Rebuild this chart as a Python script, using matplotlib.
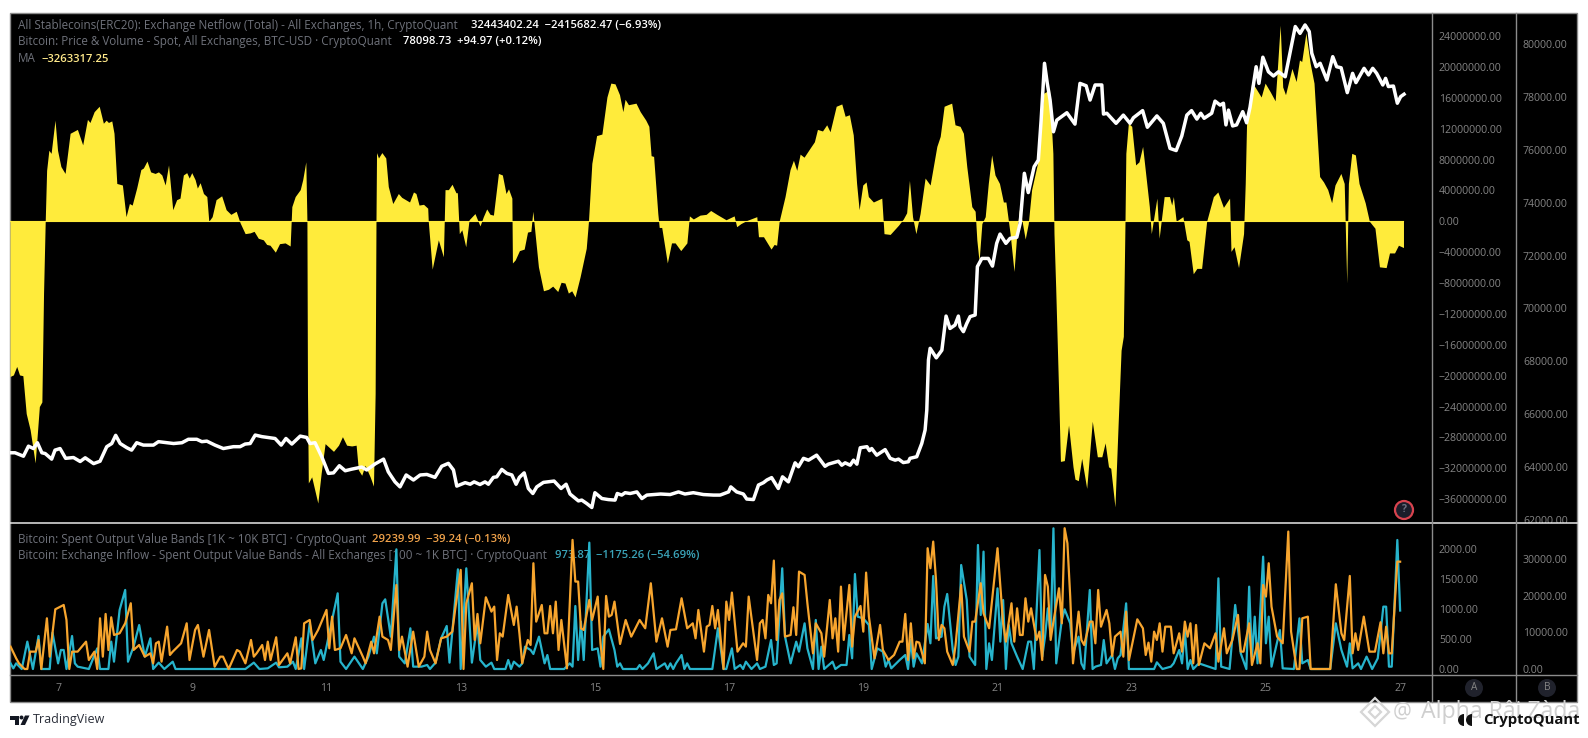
import matplotlib
matplotlib.use("Agg")
import matplotlib.pyplot as plt
from matplotlib.lines import Line2D
from matplotlib.patches import Circle, Polygon, Rectangle, Wedge
from matplotlib.transforms import IdentityTransform

# hours counted from the "7" tick, netflow in millions
netflow_hours = [
    -17.2, -16.0, -14.8, -13.8, -12.6, -11.4, -10.0, -8.2, -6.7, -5.8, -5.2, -4.6, -4.1, -3.3, -2.5, -1.1, -0.2,
    1.0, 2.5, 4.3, 6.9, 8.8, 10.5, 11.4, 12.9, 14.7, 16.2, 17.2, 18.0, 19.2, 20.0, 21.0, 23.0, 24.3, 25.5, 26.5,
    28.1, 29.6, 30.5, 31.8, 33.1, 34.7, 35.9, 37.1, 38.3, 39.5, 41.0, 42.4, 43.6, 44.8, 46.0, 46.9, 47.8, 49.0,
    49.8, 50.8, 52.0, 53.2, 53.9, 55.1, 56.5, 58.5, 60.1, 61.8, 63.7, 65.1, 66.9, 68.7, 70.1, 71.6, 73.4, 74.6,
    75.8, 77.7, 79.2, 81.2, 83.0, 83.6, 84.8, 86.6, 87.5, 88.6, 89.0, 89.2, 89.5, 90.7, 92.9, 94.1, 95.5, 96.7,
    98.5, 100.3, 101.7, 103.2, 105.0, 106.6, 107.4, 108.6, 109.8, 111.6, 112.8, 113.4, 113.7, 113.9, 114.6,
    115.8, 117.2, 118.1, 119.7, 121.7, 122.9, 125.7, 127.1, 128.0, 129.1, 130.7, 132.2, 132.4, 133.8, 136.0,
    137.8, 138.4, 139.6, 140.9, 142.3, 142.8, 143.5, 144.4, 145.8, 147.0, 149.1, 150.9,
    152.1, 153.3, 154.5, 155.7, 157.5, 158.9, 160.2, 161.1, 162.3, 162.5, 163.5, 165.0, 166.7, 167.9, 169.1,
    169.8, 170.6, 171.8, 173.6, 175.4, 176.9, 178.7, 179.9, 181.3, 182.5, 183.7, 184.9, 186.7, 188.9, 189.7,
    190.9, 192.6, 194.5, 196.3, 197.7, 199.2, 200.8, 202.0, 202.8, 204.0, 206.7, 208.2, 210.2, 211.3, 212.1,
    213.0, 214.5, 215.0, 215.9, 217.9, 219.4, 220.7, 222.7, 224.9, 225.8, 227.2, 229.6, 231.8, 233.4, 235.6,
    238.9, 241.8, 242.7, 244.2, 246.3, 249.9, 250.5, 252.3, 255.0, 256.1, 257.0, 257.9, 260.0, 261.8, 263.0,
    264.2, 265.4, 266.8, 269.0, 270.5, 271.6, 273.4, 274.9, 276.1, 278.3, 280.3, 281.5, 283.0, 284.4, 285.6,
    286.5, 287.8, 289.0, 289.8, 291.6, 293.4, 294.6, 295.4, 297.6, 300.6, 302.3, 303.5, 304.5, 305.6, 306.8,
    308.3, 310.1, 311.9, 314.3, 315.5, 316.9, 318.2, 319.6, 320.8, 322.6,
    323.8, 325.0, 326.8, 328.0, 328.6, 329.4, 330.4, 331.6, 332.7, 333.9, 335.1, 336.7, 338.1, 339.0, 340.5,
    341.9, 342.9, 343.8, 344.7, 345.9, 347.0, 348.2, 350.3, 352.5, 354.6, 355.8, 356.2, 356.8, 357.8, 358.5,
    359.9, 361.4, 363.0, 363.7, 364.9, 366.1, 367.9, 369.9, 371.7, 373.3, 374.5, 375.7, 376.5, 378.0, 379.2,
    380.2, 381.0, 381.6, 381.9, 382.8, 384.0, 385.4, 386.6, 387.9, 389.1, 390.3, 391.0, 393.0, 393.8, 395.6,
    397.5, 398.3, 398.9, 399.9, 402.3, 403.7, 404.5, 406.0, 407.3, 409.0, 410.8, 413.2, 414.8, 416.8, 419.0,
    419.5, 420.6, 422.2, 424.0, 424.6, 425.1, 426.9, 428.1, 430.3, 431.7, 433.5, 435.3, 435.9, 437.1, 438.0,
    439.0, 441.3, 442.8, 444.0, 444.8, 446.3, 447.8, 449.2, 451.2, 452.6, 454.1, 455.5, 456.7, 458.8, 460.0,
    460.9, 461.5, 462.7, 464.0, 465.3, 467.5, 469.0, 471.0, 472.6, 475.0, 476.2, 478.0, 479.4, 481.2,
]
netflow_values = [
    -20.1, -19.9, -18.8, -19.9, -20.0, -24.9, -27.0, -31.3, -24.0, -23.4, -9.3, 0, 6.6, 9.2, 8.8, 13.1, 9.2,
    7.1, 6.2, 11.4, 11.9, 9.9, 13.2, 12.8, 14.2, 14.9, 12.7, 13.1, 12.8, 13.0, 11.4, 4.9, 4.7, 0.6, 2.3, 2.1,
    4.3, 6.7, 6.9, 7.8, 6.4, 6.2, 6.4, 6.0, 4.7, 7.3, 1.5, 2.8, 3.0, 6.0, 6.3, 5.6, 6.3, 5.4,
    4.3, 5.0, 3.6, 3.2, 0, 0.6, 2.8, 3.3, 1.5, 0.9, 1.3, -0.2, -1.6, -1.5, -1.3, -2.2, -2.4, -3.0,
    -3.1, -4.0, -2.9, -2.8, -3.2, 1.9, 3.2, 4.1, 5.4, 7.7, 0, -22.3, -33.9, -33.1, -36.5, -32.6, -28.8, -29.2,
    -29.8, -29.0, -27.9, -29.0, -29.1, -29.0, -32.2, -32.9, -31.6, -33.1, -34.3, -22.3, 0, 8.9, 8.2,
    8.9, 8.2, 4.5, 2.3, 3.6, 3.1, 2.5, 3.8, 3.6, 2.1, 2.2, 1.7, 0, -6.2, -2.4,
    -4.6, 4.1, 4.1, 4.8, 3.7, 3.7, -1.6, -1.1, -3.3, 0.2, 1.0, -0.6,
    0.6, 1.6, 0.9, 0.8, 6.2, 6.0, 3.6, 4.2, 3.0, -5.4, -5.0, -3.8, -3.6, -1.4, -1.3,
    1.3, -1.6, -5.9, -9.0, -8.8, -8.4, -9.1, -7.9, -8.0, -9.3, -9.0, -9.8, -7.2, -3.5, 0,
    7.5, 11.1, 11.3, 16.1, 17.9, 17.8, 16.4, 14.2, 15.8, 15.1, 15.3, 14.2, 13.1, 12.3, 8.5,
    8.4, 1.0, -0.8, -0.8, -5.4, -2.8, -2.8, -3.8, -2.8, 0.7, 0.3, 0.8, 0.9, 1.4, 0.9,
    0.2, 0.7, -0.7, -0.3, 0.1, 0.6, -2.0, -2.0, -3.6, -3.0, -3.1, 0, 3.2, 6.7, 7.9,
    6.6, 8.7, 8.3, 9.5, 10.3, 11.9, 11.7, 12.5, 11.6, 14.9, 15.2, 13.6, 13.8, 11.2, 4.9,
    1.5, 4.7, 5.1, 3.2, 2.5, 2.8, 3.0, -1.6, -1.7, -0.5, 0.3, 1.1, 5.3, 0.6, -1.6,
    1.0, 5.6, 4.7, 9.7, 11.0, 14.9, 15.1, 15.3, 12.5, 12.3,
    11.4, 7.1, 1.9, 1.3, -2.4, -5.2, -0.3, 0.6, 4.9, 8.6, 6.0, 4.9, 2.5, 2.5, -1.6,
    -6.5, -1.6, 1.5, 0.2, -2.3, -0.3, 4.1, 7.5, 16.6, 17.0, 8.8, -1.6, -8.5, -21.4, -31.1,
    -31.0, -26.4, -31.8, -33.4, -33.6, -30.7, -34.6, -25.9, -30.5, -30.5, -28.7, -31.8, -32.0, -37.0, -25.7,
    -16.7, -14.9, 0, 8.8, 12.7, 12.3, 7.3, 7.7, 9.7, 5.8, 1.9, -1.6, 3.0, -2.2, 3.2,
    3.2, 2.1, 3.2, 0, 0.6, -2.4, -2.6, -6.8, -6.1, -6.1, 0, 3.2, 3.8, 1.8, 3.0,
    -3.9, -3.3, -6.0, -1.6, 4.9, 13.1, 17.9, 17.4, 16.1, 17.9, 16.8, 15.6, 18.7, 25.4, 17.4,
    16.4, 19.8, 18.1, 20.9, 20.7, 24.4, 20.5, 17.9, 5.8, 5.1, 4.1, 2.4, 4.7, 6.2, 4.9,
    -8.0, 4.9, 8.8, 8.6, 4.9, 2.4, 0, -0.9, -5.9, -6.0, -4.1, -4.1, -3.1, -3.4,
]

# BTC price in thousands of USD
price_hours = [
    -17.2, -15.4, -12.4, -10.6, -8.8, -7.4, -5.8, -4.6, -2.3, -1.1, 0.7, 2.7, 5.5, 7.9, 9.7, 12.7, 15.0, 17.4,
    19.2, 20.6, 22.2, 24.6, 26.3, 28.1, 30.5, 34.1, 35.9, 41.3, 44.3, 46.6, 49.6, 51.4, 53.2, 56.1, 59.1, 62.7,
    65.1, 66.9, 68.7, 70.5, 72.9, 77.6, 79.8, 81.5, 83.6, 86.6, 88.9, 90.1, 91.9, 94.3, 96.7, 98.5, 100.6, 102.7,
    105.0, 108.6, 110.4, 113.4, 116.4, 118.1, 120.5, 122.3, 124.5, 127.1, 129.5, 131.9, 134.8, 137.2, 139.6,
    141.4, 142.6, 145.6, 147.4, 148.8, 150.9,
    152.7, 153.9, 155.7, 156.9, 158.7, 160.5, 162.3, 163.8, 165.0, 166.7, 168.2, 169.8, 171.2, 173.6, 177.4,
    179.9, 181.7, 183.1, 186.1, 187.3, 189.1, 190.9, 192.0, 194.5, 196.8, 199.2, 200.0, 201.6, 202.8, 204.6,
    207.0, 208.8, 210.6, 215.5, 218.9, 221.9, 224.2, 227.2, 230.8, 234.4, 236.8, 239.8, 240.6, 242.7, 245.1,
    246.3, 248.7, 250.5, 252.3, 253.5, 255.2, 257.6, 259.1, 261.2, 263.6, 264.8, 266.6, 268.4, 271.3, 274.3,
    275.5, 279.1, 280.3, 281.5, 283.3, 284.5, 285.7, 286.9, 289.3, 290.2, 291.0, 292.8, 295.8, 297.6, 299.4,
    300.6, 302.3, 304.1, 304.7, 307.1, 308.9, 310.1, 310.7, 311.3, 311.9, 314.1, 316.1, 317.6, 319.0, 320.8,
    322.0, 322.6,
    323.8, 325.0, 326.2, 328.0, 328.8, 330.4, 332.7, 334.2, 335.7, 336.9, 339.0, 340.5, 342.9, 344.1, 345.6,
    347.0, 349.1, 350.6, 351.6, 352.8, 353.8, 354.8, 356.0, 357.2, 360.8, 363.7, 365.5, 367.7, 369.1, 370.9,
    373.3, 373.9, 375.1, 378.4, 381.0, 383.4, 384.6, 387.9, 389.6, 393.0, 395.3, 397.7, 399.9, 401.9, 403.7,
    405.4, 407.3, 408.7, 409.9, 412.6, 413.8, 415.6, 416.8, 417.7, 418.6, 420.1, 421.5, 423.7, 425.1, 426.3,
    428.5, 429.5, 430.9, 432.9, 434.7, 436.5, 438.9, 440.7, 442.5, 444.2, 446.0, 447.5, 448.4, 450.0, 451.4,
    453.8, 455.9, 457.3, 458.9, 461.1, 463.0, 464.2, 467.1, 468.7, 470.2, 471.6, 473.8, 474.8, 475.8, 477.6,
    479.0, 480.2, 481.4,
]
price_values = [
    64.54, 64.54, 64.41, 64.79, 64.70, 64.92, 64.54, 64.51, 64.30, 64.64, 64.70, 64.33, 64.36, 64.21, 64.35, 64.13, 64.22, 64.77,
    64.89, 65.20, 64.89, 64.73, 64.64, 64.92, 64.83, 64.83, 64.96, 64.89, 64.92, 65.05, 65.05, 64.96, 64.98, 64.83, 64.70, 64.77,
    64.77, 64.87, 64.89, 65.21, 65.15, 65.08, 64.83, 65.08, 64.87, 65.17, 65.12, 64.89, 64.92, 64.39, 63.76, 63.78, 64.05, 63.86,
    63.92, 64.00, 63.89, 64.12, 64.30, 63.82, 63.44, 63.25, 63.70, 63.51, 63.70, 63.72, 63.61, 64.03, 64.14,
    63.89, 63.28, 63.41, 63.35, 63.44, 63.34,
    63.44, 63.35, 63.61, 63.63, 63.91, 63.76, 63.70, 63.35, 63.61, 63.78, 63.19, 63.00, 63.25, 63.42, 63.47,
    63.19, 63.35, 62.98, 62.72, 62.75, 62.62, 62.47, 63.03, 62.81, 62.77, 62.75, 63.00, 62.94, 63.03, 63.00,
    63.06, 62.81, 62.94, 62.98, 62.96, 63.06, 62.98, 63.03, 62.96, 62.94, 62.94, 63.06, 63.25, 63.06, 62.98,
    62.79, 62.77, 63.32, 63.41, 63.51, 63.60, 63.19, 63.63, 63.44, 64.16, 64.01, 64.33, 64.26, 64.45, 64.03,
    64.11, 64.22, 64.07, 64.16, 64.07, 64.26, 64.11, 64.73, 64.77, 64.62, 64.70, 64.45, 64.66, 64.33, 64.26,
    64.30, 64.17, 64.20, 64.33, 64.39, 64.89, 65.40, 66.15, 68.05, 68.49, 68.13, 68.42, 69.71, 69.24, 69.37,
    69.71, 69.31,
    69.12, 69.43, 69.69, 69.75, 71.58, 71.89, 71.89, 71.60, 72.46, 72.81, 72.46, 72.65, 72.69, 73.22, 75.11,
    74.38, 75.36, 75.61, 77.12, 79.27, 78.51, 77.88, 76.68, 77.12, 77.40, 76.97, 78.51, 78.42, 77.88, 78.45,
    78.45, 77.35, 77.38, 77.00, 77.31, 77.00, 77.21, 77.48, 76.85, 77.28, 77.00, 76.05, 75.97, 76.52, 77.31,
    77.48, 77.16, 77.38, 77.19, 77.38, 77.84, 77.69, 77.76, 76.94, 77.50, 76.90, 76.94, 77.44, 77.02, 77.60,
    79.14, 78.51, 79.50, 78.95, 78.79, 78.95, 78.76, 79.71, 80.66, 80.40, 80.72, 80.47, 79.65, 79.14, 79.27,
    78.64, 79.52, 79.14, 79.10, 78.16, 78.89, 78.54, 79.08, 78.83, 79.08, 78.89, 78.45, 78.70, 78.39, 78.41,
    77.76, 78.01, 78.10,
]

# Spent output value bands [1K ~ 10K BTC], right-hand scale
orange_hours = [
    -17, -15, -14, -12, -11, -10, -8, -7, -6, -4, -3, -1, 2, 3, 4, 5, 7, 10, 11, 13, 14, 15, 16, 17, 18, 19, 20, 22,
    24, 26, 27, 29, 31, 33, 34, 35, 36, 37, 39, 40, 41, 44, 46, 47, 49, 50, 52, 54, 56, 58, 59, 61, 64, 65, 67, 69,
    70, 71, 73, 74, 75, 76, 78, 79, 82, 83, 85, 86, 87, 88, 90, 91, 93, 96, 97, 98, 99, 101, 103, 105, 106, 109,
    110, 112, 113, 115, 116, 118, 119, 121, 122, 123, 125, 127, 129, 131, 132, 133, 135, 137, 139, 141, 142, 144,
    145, 146, 148, 149, 150, 151, 153, 155, 156, 157, 158, 159, 161, 163, 164, 165,
    166, 168, 169, 170, 171, 173, 174, 175, 176, 177, 178, 179, 180, 182, 184, 185, 186, 187, 188, 190, 191, 193,
    194, 195, 196, 197, 198, 199, 201, 203, 205, 208, 210, 212, 214, 216, 218, 219, 221, 223, 225, 227, 228, 229,
    231, 232, 233, 234, 235, 236, 238, 239, 240, 241, 243, 245, 246, 247, 250, 251, 252, 253, 254, 255, 256, 257,
    258, 259, 260, 262, 263, 264, 265, 267, 268, 270, 271, 273,
    274, 276, 277, 278, 279, 280, 281, 283, 284, 285, 287, 288, 289, 290, 292, 294, 295, 297, 299, 301, 302, 303,
    304, 305, 306, 307, 308, 310, 311, 312, 313, 314, 315, 316, 317, 318, 320, 321, 323, 324, 326, 327, 328, 330,
    331, 333, 336, 338, 339, 341, 342, 343, 344, 345, 346, 347, 348, 350, 351, 352, 353, 354, 355, 356, 358, 359,
    360, 361, 362, 363, 365, 366, 367, 369, 370, 371, 372, 373, 375, 376, 377, 378, 380,
    381, 382, 383, 386, 388, 389, 390, 391, 392, 393, 394, 395, 396, 398, 399, 401, 402, 403, 404, 405, 406, 407,
    408, 410, 412, 414, 415, 417, 418, 420, 422, 423, 424, 426, 427, 429, 430, 431, 432, 433, 434, 436, 438, 440,
    441, 443, 444, 445, 447, 448, 455, 457, 459, 460, 462, 463, 464, 465, 467, 469, 471, 473, 474, 475, 476, 477,
    479, 480,
]
orange_values = [
    6090, 2910, 1545, 0, 0, 4730, 4730, 7910, 0, 13820, 3360, 16270, 17450, 13360, 0, 4730, 4730, 7450, 2450, 4730, 0, 13820, 3360, 15000, 5180, 14090, 9270, 9730,
    12450, 17910, 5180, 6540, 3360, 4270, 1545, 7000, 7450, 2000, 11540, 3820, 4730, 7000, 12450, 2450, 10640, 12000, 3360, 10640, 640, 3360, 3360, 0, 5180, 4730, 1545, 7910,
    3360, 4270, 6540, 2450, 7450, 2450, 8640, 1090, 4270, 1545, 8640, 0, 180, 12450, 13360, 7910, 10640, 16090, 5640, 14270, 5180, 5640, 9270, 4270, 8360, 3360,
    1545, 7450, 4270, 14270, 8820, 7910, 5180, 22900, 5180, 8820, 640, 10180, 640, 3360, 10180, 5180, 1545, 8360, 8820, 10180, 16090, 27000,
    0, 17910, 23360, 7910, 15000, 7000, 19540, 15630, 17000, 2450, 9730, 8820, 20180, 12000, 17000, 9730,
    1545, 7910, 6540, 28820, 12910, 17450, 9730, 9730, 17180, 9730, 18360, 5180, 13360, 180, 35180, 23820, 23820, 11090, 10640, 18820, 13360, 19730,
    7000, 0, 19910, 14270, 14730, 18360, 6820, 13360, 8820, 13360, 11090, 23360, 7450, 13820, 6090, 10640, 10820, 19270, 11090, 12450, 8360, 16090,
    4730, 11540, 12000, 17180, 11090, 16090, 0, 18360, 13360, 20820, 4730, 7000, 6090, 19730, 2450, 12450, 13360, 8360, 20180, 17910, 29540, 7910,
    18820, 20630, 8820, 9270, 16820, 9270, 26540, 25630, 17910, 4270, 12450, 9730,
    3360, 18820, 8360, 13820, 4730, 22450, 7910, 22900, 6090, 14270, 17180, 10180, 26270, 14270, 2910, 12000, 5180, 2450, 3820, 7450, 7450, 15000,
    2450, 12450, 2910, 7450, 7180, 1545, 32910, 27450, 34720, 24270, 7910, 12000, 11090, 4730, 1090, 6540, 22900, 8820, 4730, 12910, 12910, 23360,
    15180, 11090, 32910, 12450, 7450, 17910, 7450, 16540, 9270, 9270, 19270, 12910, 16540, 7910, 10180, 2450, 25630, 22450, 7910, 12910, 22000, 12450,
    38360, 34270, 19730, 1545, 15630, 7910, 6540, 12910, 12910, 7000, 21540, 11540, 16090, 12450, 3545, 8820, 10180,
    3360, 15630, 2450, 13540, 11090, 3820, 7180, 2000, 10180, 7910, 12450, 4730, 11540, 11540, 4270, 9730, 4730, 12910, 8820, 12450, 1545, 12000,
    1090, 7000, 5640, 9730, 2000, 11090, 4270, 7910, 14730, 4730, 4730, 12450, 1090, 7000, 1545, 22900, 19730, 28820, 17000, 8820, 7000, 37450,
    10180, 0, 0, 13820, 14270, 0, 0, 23090, 9730, 7910, 25360, 4270, 9730, 5180, 14270, 4730, 4730, 12730, 4270, 11540, 4270, 4270,
    29270, 29240,
]

# Exchange inflow bands [100 ~ 1K BTC], left-hand scale
teal_hours = [
    -17, -16, -15, -13, -11, -9, -7, -6, -3, -2, 0, 1, 2, 3, 5, 6, 7, 11, 14, 15, 18, 19, 20, 22, 24, 25, 27, 29,
    31, 33, 34, 36, 38, 41, 42, 67, 70, 72, 75, 78, 79, 82, 84, 85, 87, 88, 90, 92, 94, 95, 100, 101, 103, 106, 109,
    111, 113, 114, 116, 117, 119, 121, 122, 124, 126, 127, 130, 132, 133, 135, 137, 139, 140, 143, 144, 146, 148,
    150, 151, 153, 155, 156, 160, 161, 162, 163, 165,
    166, 167, 169, 170, 171, 172, 174, 175, 176, 181, 183, 184, 185, 186, 187, 188, 190, 191, 193, 194, 195, 197,
    199, 200, 201, 202, 207, 208, 209, 211, 213, 214, 217, 218, 219, 220, 221, 223, 224, 225, 226, 234, 236, 238,
    239, 241, 242, 244, 245, 246, 248, 250, 251, 253, 255, 256, 257, 259, 260, 262, 264, 265, 267, 268, 270, 271, 272,
    273, 274, 277, 278, 280, 282, 283, 284, 285, 286, 288, 290, 291, 293, 295, 296, 297, 298, 301, 303, 304, 305,
    306, 307, 309, 311, 312, 313, 314, 316, 317, 318, 320, 321, 322, 323, 325, 326, 328, 329, 330, 331, 332, 333,
    334, 336, 337, 338, 339, 340, 341, 343, 345, 347, 348, 349, 351, 352, 353, 354, 355, 356, 357, 359, 360, 362,
    363, 365, 366, 367, 369, 370, 371, 373, 374, 375, 377, 378, 379,
    380, 382, 383, 392, 393, 395, 398, 399, 401, 402, 403, 404, 405, 406, 408, 414, 415, 416, 419, 421, 423, 425,
    426, 427, 428, 429, 431, 432, 433, 434, 437, 438, 442, 444, 445, 447, 448, 455, 457, 459, 461, 462, 463, 465,
    466, 468, 470, 472, 474, 475, 476, 477, 479, 480,
]
teal_values = [
    94, 11, 94, 0, 456, 0, 550, 0, 0, 606, 94, 317, 317, 0, 550, 94, 39, 0, 344, 0, 0, 456, 122, 983, 1317, 122, 372, 733,
    206, 511, 0, 106, 0, 122, 0, 0, 106, 0, 11, 106, 28, 39, 122, 0, 511, 0, 761, 94, 317, 150, 1261, 122, 0, 206, 0,
    206, 539, 261, 1094, 1161, 539, 1994, 206, 94, 678, 39, 39, 67, 0, 106, 511, 717, 106, 1661, 0, 1678, 106,
    761, 150, 39, 106, 0, 0, 150, 0, 122, 39,
    94, 372, 317, 250, 400, 539, 94, 233, 0, 0, 94, 39, 1050, 150, 789, 150, 2106, 317, 344, 39, 539, 661,
    317, 39, 94, 0, 0, 67, 0, 94, 261, 0, 94, 0, 94, 0, 94, 233, 0, 94, 0, 0, 678, 0,
    0, 344, 0, 67, 0, 122, 0, 94, 0, 39, 483, 67, 94, 1678, 539, 94, 456, 289, 761, 344, 0, 817, 0,
    372, 0, 122, 0, 67, 67, 567, 178, 1583, 872, 844, 733, 0, 344, 289, 39, 150, 11, 150, 233, 0, 483,
    39, 261, 94, 750, 428, 1550, 511, 539, 1039, 1250, 317, 67, 206, 1733, 1150, 206, 67, 2067, 900, 1956, 0, 428,
    150, 1344, 456, 1150, 0, 733, 428, 206, 0, 456, 456, 0, 1983, 206, 539, 1011, 539, 2344, 94, 817, 994, 761,
    261, 539, 94, 0, 1317, 0, 39, 67, 483, 94, 233, 0, 178,
    233, 1094, 0, 0, 111, 0, 39, 94, 317, 94, 650, 0, 150, 0, 94, 0, 1511, 39, 0, 1067, 261, 0,
    1372, 206, 872, 94, 1872, 428, 872, 39, 650, 11, 0, 844, 94, 150, 0, 0, 761, 317, 39, 428, 11, 94,
    0, 206, 0, 178, 1039, 1039, 39, 39, 2150, 974,
]

netflow_ticks = [-36, -32, -28, -24, -20, -16, -12, -8, -4, 0, 4, 8, 12, 16, 20, 24]
price_ticks = [62, 64, 66, 68, 70, 72, 74, 76, 78, 80]
teal_ticks = [0, 500, 1000, 1500, 2000]
orange_ticks = [0, 10000, 20000, 30000]
day_labels = ["7", "9", "11", "13", "15", "17", "19", "21", "23", "25", "27"]
day_hours = [0, 48, 96, 144, 192, 240, 288, 336, 384, 432, 480]

W, H = 1588, 738
YELLOW = "#ffeb3b"
GREY = "#858585"
DIM = "#6f727b"
ORANGE = "#f7a52e"
TEAL = "#27b4cc"
FONT = "Open Sans"

plt.rcParams["font.family"] = [FONT, "DejaVu Sans"]


def box(x0, y0, x1, y1):
    """Axes rectangle from pixel corners, y counted from the top."""
    return [x0 / W, 1 - y1 / H, (x1 - x0) / W, (y1 - y0) / H]


def num(v):
    return f"{v:.2f}".replace("-", "\u2212")


def px_text(x, y, s, color, size=8.4, weight="normal", zorder=3, **kw):
    fig.text(x / W, 1 - y / H, s, color=color, fontsize=size, fontweight=weight,
             va="center", zorder=zorder, **kw)


def px_line(x0, y0, x1, y1, color, lw=1.0, zorder=6):
    fig.add_artist(Line2D([x0 / W, x1 / W], [1 - y0 / H, 1 - y1 / H], color=color, lw=lw, zorder=zorder))


def style_axis(ax, ticks, labels, pad):
    ax.set_yticks(ticks)
    ax.set_yticklabels(labels)
    ax.tick_params(axis="y", length=0, pad=pad, labelsize=7.6, labelcolor=GREY)
    ax.patch.set_visible(False)
    for spine in ax.spines.values():
        spine.set_visible(False)


fig = plt.figure(figsize=(W / 100, H / 100), dpi=100, facecolor="white")

fig.add_artist(Rectangle((10 / W, 1 - 702 / H), 1567 / W, 689 / H, facecolor="black",
                         edgecolor="#8c8c8c", lw=1, zorder=0))

xlim = (-17.2, 491.4)

# ---- upper pane ----
ax_flow = fig.add_axes(box(10, 13, 1432, 523), zorder=1)
ax_flow.set_xlim(xlim)
ax_flow.set_ylim(-39.08e6, 26.98e6)
flow = [v * 1e6 for v in netflow_values]
ax_flow.fill_between(netflow_hours, flow, 0, color=YELLOW, linewidth=0)
ax_flow.plot([netflow_hours[0], netflow_hours[-1]], [0, 0], color=YELLOW, lw=0.8)
ax_flow.set_xticks([])

ax_price = ax_flow.twinx()
ax_price.set_zorder(2)
ax_price.set_ylim(61884, 81172)
ax_price.plot(price_hours, [v * 1000 for v in price_values], color="white", lw=2.5, solid_joinstyle="round")
ax_price.spines["right"].set_position(("outward", 84 * 0.72))
style_axis(ax_price, [t * 1000 for t in price_ticks], [num(t * 1000) for t in price_ticks], 5)

# twinx moves the first axis back to the left, so set it after
ax_flow.yaxis.tick_right()
style_axis(ax_flow, [t * 1e6 for t in netflow_ticks], [num(t * 1e6) for t in netflow_ticks], 5)

# covers the lower half of the 62000 label, as in the reference
fig.add_artist(Rectangle((1433 / W, 1 - 701 / H), 143 / W, 178 / H, facecolor="black", lw=0, zorder=3))

# ---- lower pane ----
ax_teal = fig.add_axes(box(10, 523, 1432, 675), zorder=4)
ax_teal.set_xlim(xlim)
ax_teal.set_ylim(-100, 2433)
ax_teal.plot(teal_hours, teal_values, color=TEAL, lw=1.6)
ax_teal.set_xticks(day_hours)
ax_teal.set_xticklabels(day_labels)
ax_teal.tick_params(axis="x", length=0, pad=6, labelsize=7.6, labelcolor=GREY)

ax_orange = ax_teal.twinx()
ax_orange.set_zorder(5)
ax_orange.set_ylim(-1635, 39782)
ax_orange.plot(orange_hours, orange_values, color=ORANGE, lw=1.6)
ax_orange.spines["right"].set_position(("outward", 84 * 0.72))
style_axis(ax_orange, orange_ticks, [num(t) for t in orange_ticks], 5)

ax_teal.yaxis.tick_right()
style_axis(ax_teal, teal_ticks, [num(t) for t in teal_ticks], 5)

# ---- separators ----
px_line(10, 523, 1577, 523, "#e8e8e8", 1.1)
px_line(10, 675, 1577, 675, "#8c8c8c")
px_line(1432, 13, 1432, 702, "#8c8c8c")
px_line(1516, 13, 1516, 702, "#8c8c8c")

# ---- legends ----
px_text(18, 25, "All Stablecoins(ERC20): Exchange Netflow (Total) - All Exchanges, 1h, CryptoQuant", DIM, zorder=7)
px_text(471, 25, "32443402.24  \u22122415682.47 (\u22126.93%)", "white", size=8.1, weight="semibold", zorder=7)
px_text(18, 42, "Bitcoin: Price & Volume - Spot, All Exchanges, BTC-USD \u00b7 CryptoQuant", DIM, zorder=7)
px_text(403, 42, "78098.73  +94.97 (+0.12%)", "white", size=8.1, weight="semibold", zorder=7)
px_text(18, 59, "MA", DIM, zorder=7)
px_text(41, 59, "\u22123263317.25", "#ffe98a", size=8.1, weight="semibold", zorder=7)

px_text(18, 539, "Bitcoin: Spent Output Value Bands [1K ~ 10K BTC] \u00b7 CryptoQuant", DIM)
px_text(372, 539, "29239.99  \u221239.24 (\u22120.13%)", "#f0a24a", size=8.1, weight="semibold")
px_text(18, 556, "Bitcoin: Exchange Inflow - Spent Output Value Bands - All Exchanges [100 ~ 1K BTC] \u00b7 CryptoQuant", DIM)
px_text(555, 556, "973.87  \u22121175.26 (\u221254.69%)", "#3aa3b8", size=8.1, weight="semibold")

# ---- small marks drawn in pixels ----
pixels = IdentityTransform()
fig.add_artist(Circle((1404, H - 510), 9, transform=pixels, facecolor="#1b1d2a", edgecolor="#d8434e", lw=1.6, zorder=7))
px_text(1404, 510, "?", "#6e7080", size=7.5, weight="bold", ha="center", zorder=8)
for cx, label in [(1474, "A"), (1547, "B")]:
    fig.add_artist(Circle((cx, H - 688), 9, transform=pixels, facecolor="#20222c", edgecolor="none", zorder=7))
    px_text(cx, 688, label, GREY, size=7.2, ha="center", zorder=8)

# TradingView mark and name
fig.add_artist(Polygon([(10, H - 715.5), (19, H - 715.5), (19, H - 725), (14.5, H - 725), (14.5, H - 719.5), (10, H - 719.5)],
                       transform=pixels, facecolor="#131722", edgecolor="none", zorder=7))
fig.add_artist(Circle((21.5, H - 717.5), 2, transform=pixels, facecolor="#131722", edgecolor="none", zorder=7))
fig.add_artist(Polygon([(25, H - 715.5), (29.5, H - 715.5), (25, H - 725), (20.5, H - 725)],
                       transform=pixels, facecolor="#131722", edgecolor="none", zorder=7))
px_text(33, 720, "TradingView", "#2a2e39", size=9, zorder=7)

# watermark, then the CryptoQuant mark on top
diamond = [(1375, H - 698), (1389, H - 712), (1375, H - 726), (1361, H - 712)]
fig.add_artist(Polygon(diamond, transform=pixels, facecolor="none", edgecolor="#d6d6d6", lw=1.6, zorder=7))
inner = [(1375, H - 706), (1381, H - 712), (1375, H - 718), (1369, H - 712)]
fig.add_artist(Polygon(inner, transform=pixels, facecolor="none", edgecolor="#d6d6d6", lw=1.6, zorder=7))
px_text(1393, 712, "@", "#cfcfcf", size=15, zorder=7)
px_text(1421, 712, "Alpha R\u00e2i Z\u00e0da", "#cfcfcf", size=16.7, zorder=7)
for cx in (1464, 1472):
    fig.add_artist(Wedge((cx, H - 720), 6, 90, 270, transform=pixels, facecolor="#111111", edgecolor="none", zorder=8))
px_text(1483, 720, "CryptoQuant", "#111111", size=10.7, weight="bold", zorder=8)

fig.savefig("out.png", dpi=100, facecolor="white")
